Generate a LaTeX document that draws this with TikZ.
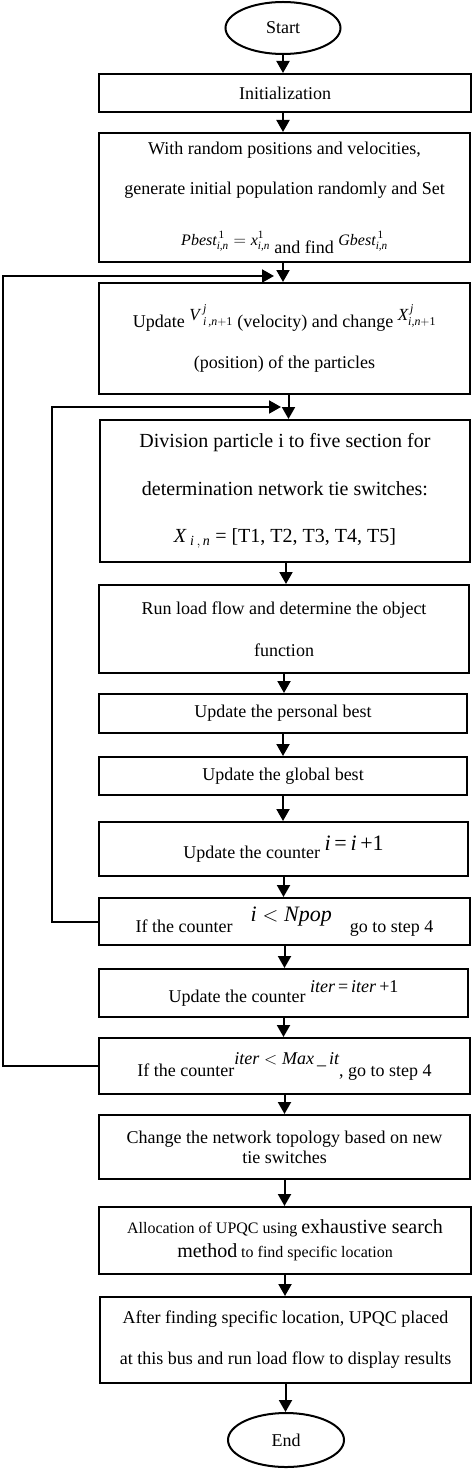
\documentclass[tikz,border=0pt]{standalone}
\usepackage{amsmath}
\usepackage{fontspec}
\setmainfont{Liberation Serif}
\usetikzlibrary{arrows.meta,shapes.geometric}
\newcommand{\mv}[1]{\text{\itshape #1}}
\newcommand{\fs}[2]{\fontsize{#1}{#2}\selectfont}
\begin{document}
\begin{tikzpicture}[x=1pt,y=-1pt,
 box/.style={draw, line width=2pt, rectangle, inner sep=0pt, align=center, font=\fs{18}{22}},
 term/.style={draw, line width=2pt, ellipse, inner sep=0pt, font=\fs{18}{22}},
 arr/.style={line width=2pt, -{Triangle[width=13pt,length=12pt]}},
]
\useasboundingbox (0,0) rectangle (474,1471);

\node[term, minimum width=115, minimum height=52] (start) at (283,28) {Start};
\node[box, minimum width=372, minimum height=38] (b2) at (285,93) {Initialization};
\node[box, minimum width=371, minimum height=129, font=\fs{18}{40}] (b3) at (284.5,197.5)
 {With random positions and velocities,\\
  generate initial population randomly and Set\\[19pt]
  \raisebox{8pt}{\fs{16}{16}$\mv{Pbest}^{\,\text{1}}_{\mv{i,n}} = \mv{x}^{\text{1}}_{\mv{i,n}}$} and find \raisebox{8pt}{\fs{16}{16}$\mv{Gbest}^{\,\text{1}}_{\mv{i,n}}$}};
\node[box, minimum width=371, minimum height=111, font=\fs{18}{41}] (b4) at (284.5,338.5)
 {Update \raisebox{7pt}{\fs{17}{17}$\mv{V}^{\;\mv{j}}_{\;\mv{i\,,n}+\text{1}}$} (velocity) and change \raisebox{7pt}{\fs{17}{17}$\mv{X}^{\,\mv{j}}_{\mv{i,n}+\text{1}}$}\\
  (position) of the particles};
\node[box, minimum width=370, minimum height=142, font=\fs{20}{47.5}] (b5) at (285,491)
 {Division particle i to five section for\\
  determination network tie switches:\\
  $\mv{X}_{\;\mv{i}\,,\,\mv{n}}$ = [T1, T2, T3, T4, T5]};
\node[box, minimum width=370, minimum height=88, font=\fs{18}{42}] (b6) at (284,629)
 {Run load flow and determine the object\\ function};
\node[box, minimum width=368, minimum height=39] (b7) at (283,713.5) {Update the personal best};
\node[box, minimum width=368, minimum height=38] (b8) at (283,776) {Update the global best};
\node[box, minimum width=369, minimum height=54] (b9) at (283.5,849)
 {Update the counter \raisebox{8pt}{\fs{22}{22}\textit{i}\,=\,\textit{i}\,+1}};
\node[box, minimum width=371, minimum height=47] (b10) at (284.5,921.5)
 {If the counter\quad\raisebox{11pt}{\fs{22}{22}$\mv{i} < \mv{Npop}$}\quad go to step 4};
\node[box, minimum width=369, minimum height=48] (b11) at (283.5,993)
 {Update the counter \raisebox{10pt}{\fs{18}{18}\textit{iter}\,=\,\textit{iter}\,+1}};
\node[box, minimum width=371, minimum height=56] (b12) at (284.5,1066)
 {If the counter\raisebox{12pt}{\fs{18}{18}$\mv{iter} < \mv{Max\,\_\,it}$}, go to step 4};
\node[box, minimum width=371, minimum height=64, font=\fs{18}{20}] (b13) at (284.5,1147)
 {Change the network topology based on new\\ tie switches};
\node[box, minimum width=372, minimum height=67, font=\fs{16}{24}] (b14) at (285,1240.5)
 {Allocation of UPQC using {\fs{20}{24}exhaustive search}\\
  {\fs{20}{24}method} to find specific location};
\node[box, minimum width=371, minimum height=86, font=\fs{18}{41}] (b15) at (285.5,1340)
 {After finding specific location, UPQC placed\\
  at this bus and run load flow to display results};
\node[term, minimum width=116, minimum height=54] (end) at (286,1440) {End};

\draw[arr] (start.south) -- (start.south |- b2.north);
\draw[arr] (b2.south -| start.south) -- (start.south |- b3.north);
\draw[arr] (b3.south -| start.south) -- (start.south |- b4.north);
\draw[arr] ([xshift=4pt]b4.south) -- ([xshift=4pt]b4.south |- b5.north);
\draw[arr] ([xshift=1pt]b5.south) -- ([xshift=1pt]b5.south |- b6.north);
\draw[arr] (b6.south) -- (b6.south |- b7.north);
\draw[arr] (b7.south) -- (b7.south |- b8.north);
\draw[arr] (b8.south) -- (b8.south |- b9.north);
\draw[arr] (b9.south) -- (b9.south |- b10.north);
\draw[arr] (b10.south) -- (b10.south |- b11.north);
\draw[arr] (b11.south) -- (b11.south |- b12.north);
\draw[arr] (b12.south) -- (b12.south |- b13.north);
\draw[arr] (b13.south) -- (b13.south |- b14.north);
\draw[arr] (b14.south) -- (b14.south |- b15.north);
\draw[arr] (b15.south) -- (b15.south |- end.north);

\coordinate (o1) at (3,1066);
\coordinate (o2) at (274,276);
\draw[arr] (b12.west) -- (o1) |- (o2);
\coordinate (i1) at (52,921.5);
\coordinate (i2) at (281,407);
\draw[arr] (b10.west) -- (i1) |- (i2);
\end{tikzpicture}
\end{document}
